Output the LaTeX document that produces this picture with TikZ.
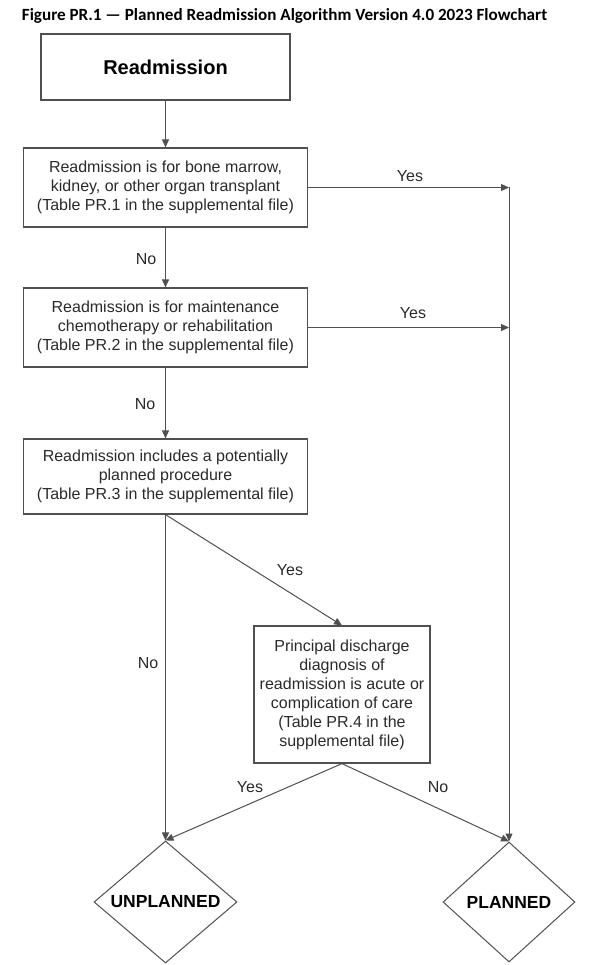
\documentclass[tikz,border=0pt]{standalone}
\usepackage{fontspec}
\setmainfont{Liberation Sans}
\newfontfamily\titlefont{Carlito}
\usetikzlibrary{shapes.geometric,arrows.meta}
\definecolor{linegray}{HTML}{505050}
\definecolor{textgray}{HTML}{2A2A2A}
\tikzstyle{box}=[rectangle,draw=linegray,line width=1.2pt,align=center,inner sep=0pt,text=textgray,font=\fontsize{16}{19}\selectfont]
\tikzstyle{endpt}=[diamond,draw=linegray,line width=1pt,inner sep=0pt,text=black,font=\fontsize{17.5}{20}\selectfont\bfseries]
\tikzstyle{flow}=[draw=linegray,line width=1pt,-{Triangle[length=8pt,width=7pt]}]
\tikzstyle{lbl}=[text=textgray,font=\fontsize{16}{19}\selectfont]

\begin{document}
\begin{tikzpicture}[x=1pt,y=-1pt]
\useasboundingbox (0,0) rectangle (596,965);
\node[anchor=base,font=\titlefont\fontsize{17.1}{20}\selectfont\bfseries] (title) at (284.5,21) {Figure PR.1 — Planned Readmission Algorithm Version 4.0 2023 Flowchart};
\node[box,minimum width=249pt,minimum height=66pt,text=black,font=\fontsize{20}{24}\selectfont\bfseries] (start) at (165.5,67) {Readmission};
\node[box,minimum width=284pt,minimum height=79pt] (transplant) at (165.5,187.5) {Readmission is for bone marrow,\\kidney, or other organ transplant\\(Table PR.1 in the supplemental file)};
\node[box,minimum width=284pt,minimum height=79pt] (chemo) at (165.5,327.5) {Readmission is for maintenance\\chemotherapy or rehabilitation\\(Table PR.2 in the supplemental file)};
\node[box,minimum width=284pt,minimum height=75pt] (procedure) at (165.5,476.5) {Readmission includes a potentially\\planned procedure\\(Table PR.3 in the supplemental file)};
\node[box,minimum width=176pt,minimum height=137pt] (acute) at (342,694.5) {Principal discharge\\diagnosis of\\readmission is acute or\\complication of care\\(Table PR.4 in the\\supplemental file)};
\node[endpt,minimum width=143pt,minimum height=120pt] (unplanned) at (165.5,902) {UNPLANNED};
\node[endpt,minimum width=132pt,minimum height=120pt] (planned) at (509,902) {PLANNED};
\coordinate (yes1) at (509,187.5);
\coordinate (yes2) at (509,327.5);

\draw[flow] (start) -- (transplant);
\draw[flow] (transplant) -- (chemo);
\draw[flow] (chemo) -- (procedure);
\draw[flow] (transplant) -- (yes1);
\draw[flow] (chemo) -- (yes2);
\draw[flow] (yes1) -- (planned.north);
\draw[flow] (procedure.south) -- (unplanned.north);
\draw[flow] (procedure.south) -- (acute.north);
\draw[flow] (acute.south) -- (unplanned.north);
\draw[flow] (acute.south) -- (planned.north);

\node[lbl] (notransplant) at (146,259) {No};
\node[lbl] (nochemo) at (145,404) {No};
\node[lbl] (yestransplant) at (410,176) {Yes};
\node[lbl] (yeschemo) at (413,313) {Yes};
\node[lbl] (noprocedure) at (148,663) {No};
\node[lbl] (yesprocedure) at (290,570) {Yes};
\node[lbl] (yesacute) at (250,787) {Yes};
\node[lbl] (noacute) at (438,787) {No};
\end{tikzpicture}
\end{document}
